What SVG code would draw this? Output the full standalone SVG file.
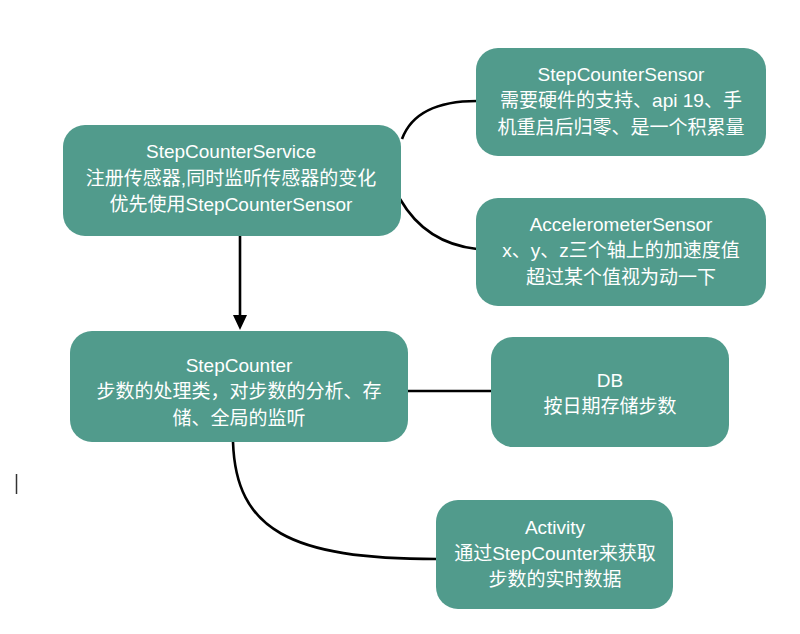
<svg xmlns="http://www.w3.org/2000/svg" width="800" height="634" viewBox="0 0 800 634">
<defs>
<style>
.box{fill:#519b8c;}
.t{font-family:"Liberation Sans","Noto Sans CJK SC",sans-serif;font-size:19px;fill:#ffffff;text-anchor:middle;}
.c{fill:none;stroke:#000;stroke-width:2.6;}
</style>
</defs>
<rect width="800" height="634" fill="#ffffff"/>
<g id="connectors">
<path class="c" d="M402,139 C412,112 440,101 477,101"/>
<path class="c" d="M400,199 C415,225 440,245 477,249"/>
<line class="c" x1="240" y1="236" x2="240" y2="318"/>
<polygon points="233,315 247,315 240,330" fill="#000"/>
<line class="c" x1="407" y1="391" x2="492" y2="391"/>
<path class="c" d="M233,442 C236,530 290,559 437,559"/>
</g>
<g id="StepCounterService">
<rect class="box" x="63" y="125" width="338" height="111" rx="22"/>
<text class="t" x="231" y="158">StepCounterService</text>
<text class="t" x="231" y="185">注册传感器,同时监听传感器的变化</text>
<text class="t" x="231" y="211">优先使用StepCounterSensor</text>
</g>
<g id="StepCounterSensor">
<rect class="box" x="476" y="48" width="290" height="108" rx="22"/>
<text class="t" x="621" y="81">StepCounterSensor</text>
<text class="t" x="621" y="107">需要硬件的支持、api 19、手</text>
<text class="t" x="621" y="134">机重启后归零、是一个积累量</text>
</g>
<g id="AccelerometerSensor">
<rect class="box" x="476" y="198" width="290" height="108" rx="22"/>
<text class="t" x="621" y="231">AccelerometerSensor</text>
<text class="t" x="621" y="257">x、y、z三个轴上的加速度值</text>
<text class="t" x="621" y="284">超过某个值视为动一下</text>
</g>
<g id="StepCounter">
<rect class="box" x="70" y="331" width="338" height="111" rx="22"/>
<text class="t" x="239" y="372">StepCounter</text>
<text class="t" x="239" y="398">步数的处理类，对步数的分析、存</text>
<text class="t" x="239" y="425">储、全局的监听</text>
</g>
<g id="DB">
<rect class="box" x="491" y="337" width="238" height="110" rx="22"/>
<text class="t" x="610" y="387">DB</text>
<text class="t" x="610" y="413">按日期存储步数</text>
</g>
<g id="Activity">
<rect class="box" x="436" y="500" width="237" height="109" rx="22"/>
<text class="t" x="555" y="534">Activity</text>
<text class="t" x="555" y="560">通过StepCounter来获取</text>
<text class="t" x="555" y="586">步数的实时数据</text>
</g>
<line x1="16.5" y1="474" x2="16.5" y2="494" stroke="#333" stroke-width="1.5"/>
</svg>
